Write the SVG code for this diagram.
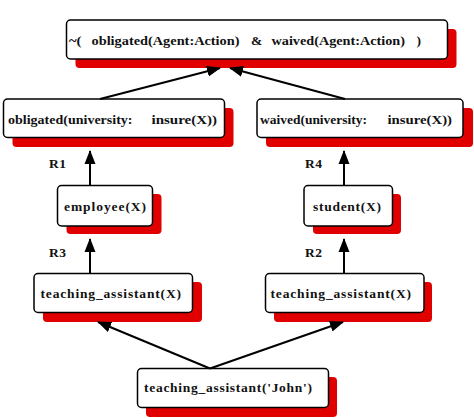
<svg xmlns="http://www.w3.org/2000/svg" width="474" height="418" viewBox="0 0 474 418">
<style>
.sh{fill:#e00000;stroke:none}
.bx{fill:#fff;stroke:#000;stroke-width:1.5}
text{font-family:"Liberation Serif","Times New Roman",serif;font-weight:bold;font-size:13.5px;fill:#111}
.ln{stroke:#000;stroke-width:2;fill:none;marker-end:url(#ah)}
</style>
<defs>
<marker id="ah" markerUnits="userSpaceOnUse" markerWidth="14" markerHeight="12" refX="13" refY="5.5" orient="auto" viewBox="0 0 14 11">
<path d="M0,0 L14,5.5 L0,11 z" fill="#000"/>
</marker>
</defs>
<g id="n-top">
<rect class="sh" x="75.5" y="29" width="381" height="39" rx="4"/>
<rect class="bx" x="66.5" y="20" width="381" height="39" rx="4"/>
<text y="45"><tspan x="69" textLength="12.5" lengthAdjust="spacingAndGlyphs">~(</tspan><tspan x="91.5" textLength="148" lengthAdjust="spacingAndGlyphs">obligated(Agent:Action)</tspan><tspan x="251">&amp;</tspan><tspan x="271.5" textLength="133.5" lengthAdjust="spacingAndGlyphs">waived(Agent:Action)</tspan><tspan x="416.5">)</tspan></text>
</g>
<g id="n-obl">
<rect class="sh" x="12.5" y="108" width="221" height="39" rx="4"/>
<rect class="bx" x="3.5" y="99" width="221" height="38.5" rx="4"/>
<text y="123.5"><tspan x="8" textLength="124.5" lengthAdjust="spacingAndGlyphs">obligated(university:</tspan><tspan x="151.5" textLength="65.5" lengthAdjust="spacingAndGlyphs">insure(X))</tspan></text>
</g>
<g id="n-wai">
<rect class="sh" x="266" y="108" width="207" height="39" rx="4"/>
<rect class="bx" x="257" y="99" width="206" height="38.5" rx="4"/>
<text y="123.5"><tspan x="260" textLength="107" lengthAdjust="spacingAndGlyphs">waived(university:</tspan><tspan x="387.5" textLength="64.5" lengthAdjust="spacingAndGlyphs">insure(X))</tspan></text>
</g>
<g id="n-emp">
<rect class="sh" x="66.5" y="194" width="95" height="40" rx="4"/>
<rect class="bx" x="57.5" y="185.5" width="95" height="40.5" rx="4"/>
<text x="64" y="210.5" textLength="82" lengthAdjust="spacing">employee(X)</text>
</g>
<g id="n-stu">
<rect class="sh" x="313" y="194" width="88" height="40" rx="4"/>
<rect class="bx" x="304" y="185.5" width="88.5" height="40.5" rx="4"/>
<text x="313" y="210.5" textLength="68" lengthAdjust="spacing">student(X)</text>
</g>
<g id="n-ta1">
<rect class="sh" x="43" y="282" width="159" height="40" rx="4"/>
<rect class="bx" x="34" y="273.5" width="158.5" height="39" rx="4"/>
<text x="40.5" y="298" textLength="140.5" lengthAdjust="spacing">teaching_assistant(X)</text>
</g>
<g id="n-ta2">
<rect class="sh" x="274" y="282" width="158" height="40" rx="4"/>
<rect class="bx" x="265.5" y="273.5" width="158.5" height="39" rx="4"/>
<text x="270.5" y="298" textLength="140.5" lengthAdjust="spacing">teaching_assistant(X)</text>
</g>
<g id="n-john">
<rect class="sh" x="146" y="377" width="191" height="40" rx="4"/>
<rect class="bx" x="137.5" y="368.5" width="191" height="39" rx="4"/>
<text x="144" y="392" textLength="168" lengthAdjust="spacing">teaching_assistant('John')</text>
</g>
<g id="connectors">
<line class="ln" x1="100" y1="99" x2="220" y2="68"/>
<line class="ln" x1="345" y1="99" x2="230" y2="68"/>
<line class="ln" x1="90" y1="185.5" x2="90" y2="151"/>
<line class="ln" x1="90" y1="273.5" x2="90" y2="239"/>
<line class="ln" x1="344" y1="185.5" x2="344" y2="151"/>
<line class="ln" x1="344" y1="273.5" x2="344" y2="239"/>
<line class="ln" x1="210" y1="368.5" x2="98" y2="322"/>
<line class="ln" x1="210" y1="368.5" x2="343" y2="322"/>
<text x="49" y="168" textLength="17" lengthAdjust="spacing">R1</text>
<text x="49" y="257" textLength="17" lengthAdjust="spacing">R3</text>
<text x="305" y="168" textLength="17" lengthAdjust="spacing">R4</text>
<text x="305" y="257" textLength="17" lengthAdjust="spacing">R2</text>
</g>
</svg>
